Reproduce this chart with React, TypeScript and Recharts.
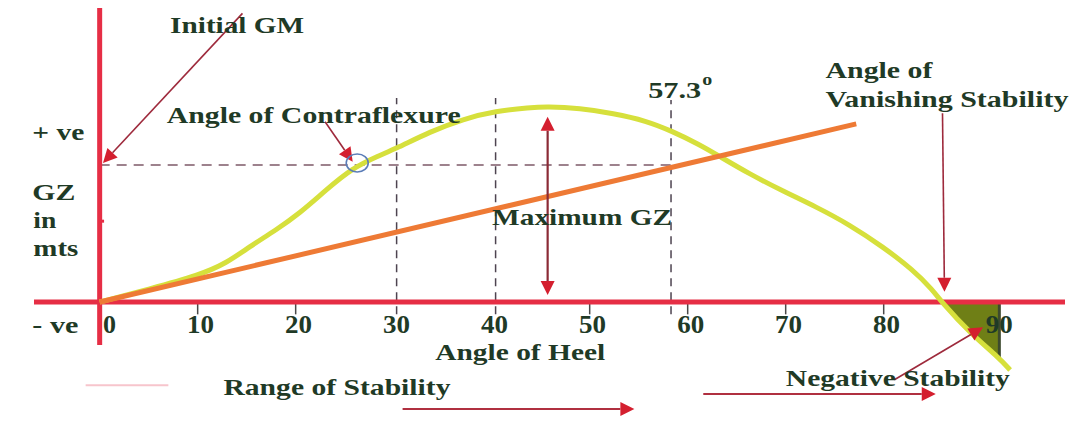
import React from 'react';
import { ComposedChart, Line, Area, XAxis, YAxis, ReferenceLine, ReferenceDot } from 'recharts';

// GZ curve (angle of heel in degrees, GZ in arbitrary metres)
const heelDeg = [0, 5.1, 10.2, 12.9, 15.3, 18.0, 20.4, 23.1, 25.8, 28.4, 30.3, 33.7, 37.1, 40.4, 43.9, 45.6, 49.0, 52.4, 55.8, 58.3, 61.2, 63.3, 66.3, 69.7, 73.1, 76.5, 79.9, 83.0, 85.0, 85.9, 88.8, 91.8, 92.9];
const gzValues = [0, 0.095, 0.197, 0.282, 0.404, 0.526, 0.647, 0.818, 0.978, 1.065, 1.122, 1.243, 1.336, 1.394, 1.418, 1.426, 1.414, 1.377, 1.322, 1.25, 1.15, 1.061, 0.935, 0.81, 0.695, 0.565, 0.404, 0.234, 0.088, 0, -0.226, -0.409, -0.496];

// initial GM tangent
const tangentDeg = [0, 77.2];
const tangentGz = [0, 1.3];

// negative stability wedge
const negDeg = [85.9, 88.8, 91.8];
const negGz = [0, -0.226, -0.409];

const xTicks = [0, 10, 20, 30, 40, 50, 60, 70, 80, 90];
const dashedAngles = [30.3, 40.4, 58.3];
const initialGm = 1.0;

const curveData = heelDeg.map((x, i) => ({ x, gz: gzValues[i] }));
const tangentData = tangentDeg.map((x, i) => ({ x, gz: tangentGz[i] }));
const negData = negDeg.map((x, i) => ({ x, gz: negGz[i] }));

const RED = '#e62e45';
const YELLOW = '#d6e03c';
const ORANGE = '#ee7a35';
const TEXT = '#1f3a26';
const DASH = '#7d5a68';
const ARROW_LINE = '#9e2a3c';
const ARROW_HEAD = '#d41f2f';
const FONT = "'Liberation Serif', 'Times New Roman', serif";

type Pt = { x: number; y: number };

function arrowShape(both: boolean, color = ARROW_LINE, width = 1.6) {
  return (p: any) => {
    const { x1, y1, x2, y2 } = p;
    const dx = x2 - x1;
    const dy = y2 - y1;
    const len = Math.hypot(dx, dy) || 1;
    const ux = dx / len;
    const uy = dy / len;
    const L = 14;
    const W = 7;
    const head = (tx: number, ty: number, sx: number, sy: number) => {
      const bx = tx - sx * L;
      const by = ty - sy * L;
      return `${tx},${ty} ${bx - sy * W},${by + sx * W} ${bx + sy * W},${by - sx * W}`;
    };
    const sx = both ? x1 + ux * L : x1;
    const sy = both ? y1 + uy * L : y1;
    return (
      <g>
        <line x1={sx} y1={sy} x2={x2 - ux * L} y2={y2 - uy * L} stroke={color} strokeWidth={width} />
        <polygon points={head(x2, y2, ux, uy)} fill={ARROW_HEAD} />
        {both && <polygon points={head(x1, y1, -ux, -uy)} fill={ARROW_HEAD} />}
      </g>
    );
  };
}

interface Arrow { from: Pt; to: Pt; both?: boolean; color?: string; width?: number }

const arrows: Arrow[] = [
  { from: { x: 14.57, y: 2.107 }, to: { x: 0.34, y: 1.015 } },
  { from: { x: 23.0, y: 1.316 }, to: { x: 25.82, y: 1.024 } },
  { from: { x: 86.0, y: 1.377 }, to: { x: 86.2, y: 0.075 } },
  { from: { x: 81.09, y: -0.567 }, to: { x: 90.13, y: -0.185 } },
  { from: { x: 30.91, y: -0.781 }, to: { x: 54.56, y: -0.781 }, color: '#b03040', width: 2 },
  { from: { x: 61.59, y: -0.672 }, to: { x: 85.31, y: -0.672 }, color: '#b03040', width: 2 },
  { from: { x: 45.71, y: 0.051 }, to: { x: 45.71, y: 1.353 }, both: true, color: '#8b2a35', width: 2.2 },
];

interface Note { x: number; y: number; text: string; w?: number; size?: number; anchor?: 'start' | 'middle' }

const notes: Note[] = [
  { x: 7.19, y: 1.964, text: 'Initial GM', w: 134, size: 24 },
  { x: 6.84, y: 1.307, text: 'Angle of Contraflexure', w: 294 },
  { x: 55.97, y: 1.489, text: '57.3', w: 53, size: 24 },
  { x: 61.5, y: 1.584, text: 'o', w: 10, size: 17 },
  { x: 74.06, y: 1.635, text: 'Angle of', w: 107 },
  { x: 74.06, y: 1.426, text: 'Vanishing Stability', w: 243 },
  { x: -6.87, y: 1.182, text: '+ ve', w: 52 },
  { x: -6.87, y: 0.745, text: 'GZ', w: 43 },
  { x: -6.77, y: 0.54, text: 'in', w: 23 },
  { x: -6.77, y: 0.334, text: 'mts', w: 45 },
  { x: -6.87, y: -0.226, text: '- ve', w: 46 },
  { x: 40.04, y: 0.562, text: 'Maximum GZ', w: 180 },
  { x: 34.24, y: -0.421, text: 'Angle of Heel', w: 170 },
  { x: 12.63, y: -0.677, text: 'Range of Stability', w: 227 },
  { x: 70.02, y: -0.615, text: 'Negative Stability', w: 224 },
];

const tickLabelGz = -0.226;

function renderNote(n: Note, key: string) {
  return (
    <ReferenceDot
      key={key}
      x={n.x}
      y={n.y}
      r={0}
      ifOverflow="visible"
      shape={(p: any) => (
        <text
          x={p.cx}
          y={p.cy}
          textAnchor={n.anchor ?? 'start'}
          fontFamily={FONT}
          fontWeight="bold"
          fontSize={n.size ?? 23}
          fill={TEXT}
          textLength={n.w}
          lengthAdjust="spacingAndGlyphs"
        >
          {n.text}
        </text>
      )}
    />
  );
}

export default function App() {
  return (
    <div style={{ position: 'absolute', left: 0, top: 0, width: 1080, height: 426, background: '#fff' }}>
      <ComposedChart width={1080} height={426} margin={{ top: 8, right: 15, bottom: 0, left: 34 }}>
        <XAxis type="number" dataKey="x" domain={[-6.7, 98.5]} allowDataOverflow hide />
        <YAxis type="number" domain={[-0.905, 2.146]} allowDataOverflow hide />

        <Area data={negData} dataKey="gz" type="linear" baseValue={0} fill="#6f7f16" fillOpacity={1}
          stroke="none" isAnimationActive={false} />
        <ReferenceLine segment={[{ x: negDeg[negDeg.length - 1], y: 0 }, { x: negDeg[negDeg.length - 1], y: negGz[negGz.length - 1] }]}
          stroke="#3d4a2e" strokeWidth={3} ifOverflow="visible" />

        <ReferenceLine segment={[{ x: 0, y: initialGm }, { x: dashedAngles[2], y: initialGm }]}
          stroke={DASH} strokeWidth={1.5} strokeDasharray="10 7" ifOverflow="visible" />
        {dashedAngles.map((a, i) => (
          <ReferenceLine key={'d' + a} segment={[{ x: a, y: -0.09 }, { x: a, y: i === 2 ? 1.474 : 1.489 }]}
            stroke="#4e4450" strokeWidth={1.5} strokeDasharray="8 6" ifOverflow="visible" />
        ))}
        {xTicks.filter((t) => t > 0 && t < 90 && t !== 30 && t !== 40).map((t) => (
          <ReferenceLine key={'t' + t} segment={[{ x: t, y: 0 }, { x: t, y: -0.09 }]}
            stroke="#4a4a4a" strokeWidth={1.5} ifOverflow="visible" />
        ))}

        <ReferenceLine y={0} stroke={RED} strokeWidth={5} ifOverflow="visible" />
        <ReferenceLine segment={[{ x: 0, y: -0.314 }, { x: 0, y: 2.146 }]} stroke={RED} strokeWidth={5} ifOverflow="visible" />
        <ReferenceLine segment={[{ x: 0, y: 0.59 }, { x: 0.45, y: 0.59 }]} stroke={RED} strokeWidth={3} ifOverflow="visible" />
        <ReferenceLine segment={[{ x: -1.43, y: -0.608 }, { x: 7.01, y: -0.608 }]} stroke="#f7c5cc" strokeWidth={2} ifOverflow="visible" />

        <Line data={curveData} dataKey="gz" type="basis" stroke={YELLOW} strokeWidth={5} dot={false}
          isAnimationActive={false} />
        <Line data={tangentData} dataKey="gz" type="linear" stroke={ORANGE} strokeWidth={5} dot={false}
          isAnimationActive={false} />

        <ReferenceDot x={26.28} y={1.015} r={0} ifOverflow="visible"
          shape={(p: any) => <ellipse cx={p.cx} cy={p.cy} rx={11} ry={9} fill="none" stroke="#5b7db8" strokeWidth={1.6} />} />

        {arrows.map((a, i) => (
          <ReferenceLine key={'a' + i} segment={[a.from, a.to]} ifOverflow="visible"
            shape={arrowShape(!!a.both, a.color, a.width)} />
        ))}

        {xTicks.map((t, i) =>
          renderNote(
            { x: t === 0 ? 1.0 : t === 90 ? 91.8 : t + 0.3, y: tickLabelGz, text: String(t), size: 25, anchor: 'middle', w: t === 0 ? 13 : 27 },
            'x' + i
          )
        )}
        {notes.map((n, i) => renderNote(n, 'n' + i))}
      </ComposedChart>
    </div>
  );
}
